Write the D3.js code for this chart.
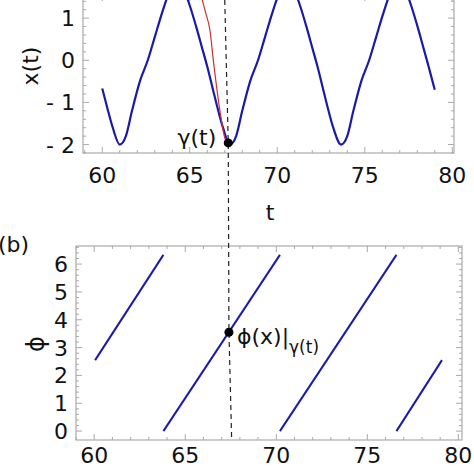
<!DOCTYPE html>
<html><head><meta charset="utf-8">
<script src="https://cdn.jsdelivr.net/npm/d3@7"></script>
<style>body{margin:0;background:#fff}text{font-family:"DejaVu Sans",sans-serif;fill:#111}</style>
</head><body><svg id="c" width="474" height="474"></svg>
<script>
/* data */
const tTop = [60,60.3,60.6,61.0,61.35,61.7,62.15,62.6,63.0,63.4,63.8,64.2,64.6,65.0,65.4,65.7,66.0,66.3,66.6,66.9,67.3,
  67.65,68.0,68.45,68.9,69.3,69.7,70.1,70.5,70.9,71.3,71.7,72.0,72.3,72.6,72.9,73.2,73.65,
  74.0,74.35,74.8,75.25,75.65,76.05,76.45,76.85,77.25,77.65,78.05,78.35,78.65,79.0];
const xTop = [-0.67,-1.15,-1.6,-2,-1.8,-1.2,-0.5,0,0.55,1.1,1.6,2,1.75,1.3,0.75,0.3,-0.15,-0.65,-1.15,-1.6,-2,
  -1.8,-1.2,-0.5,0,0.55,1.1,1.6,2,1.75,1.3,0.75,0.3,-0.15,-0.65,-1.15,-1.6,-2,
  -1.8,-1.2,-0.5,0,0.55,1.1,1.6,2,1.75,1.3,0.75,0.3,-0.15,-0.7];
const tRed = [65.6,65.9,66.17,66.34,66.5,66.74,67.03,67.2];
const xRed = [1.6,1.14,0.67,0.02,-0.52,-1.24,-1.88,-1.96];
const phiSegs = [[[60.05,2.55],[63.8,6.33]],[[63.8,0],[70.2,6.33]],[[70.2,0],[76.6,6.33]],[[76.6,0],[79.1,2.55]]];
const dotTop = [67.2,-1.96], dotBot = [67.4,3.55];
const xTicks = [60,65,70,75,80];
const yTicksTop = [-2,-1,0,1], yTicksBot = [0,1,2,3,4,5,6];

const svg = d3.select("#c");
const xa = d3.scaleLinear().domain([58.9,80.1]).range([83,454]);
const ya = d3.scaleLinear().domain([-2.2,1.43]).range([153,0]);
const xb = d3.scaleLinear().domain([59.0,80.2]).range([76,462]);
const yb = d3.scaleLinear().domain([-0.32,6.65]).range([440,246]);

function frame(x, y, top, yt, minorY, labOff) {
  const g = svg.append("g");
  const [x0,x1] = x.range(), y0 = y.range()[0], y1 = top;
  g.append("rect").attr("x",x0).attr("y",y1).attr("width",x1-x0).attr("height",y0-y1)
    .attr("fill","none").attr("stroke","#aaa").attr("stroke-width",1.2);
  d3.range(59,81).filter(v=>v>=x.domain()[0]&&v<=x.domain()[1]).forEach(v=>{
    const L = v%5===0?6:3;
    g.append("line").attr("x1",x(v)).attr("x2",x(v)).attr("y1",y0).attr("y2",y0-L).attr("stroke","#aaa");
    g.append("line").attr("x1",x(v)).attr("x2",x(v)).attr("y1",y1).attr("y2",y1+L).attr("stroke","#aaa");
  });
  minorY.forEach(v=>{
    const L = Math.abs(v-Math.round(v))<1e-6?6:3;
    g.append("line").attr("x1",x0).attr("x2",x0+L).attr("y1",y(v)).attr("y2",y(v)).attr("stroke","#aaa");
    g.append("line").attr("x1",x1).attr("x2",x1-L).attr("y1",y(v)).attr("y2",y(v)).attr("stroke","#aaa");
  });
  xTicks.forEach(v=>g.append("text").attr("x",x(v)).attr("y",y0+labOff).attr("text-anchor","middle")
    .attr("font-size",22).text(v));
  yt.forEach(v=>g.append("text").attr("x",x0-8).attr("y",y(v)+8).attr("text-anchor","end")
    .attr("font-size",22).text(v<0?"- "+(-v):v));
}
frame(xa, ya, -5, yTicksTop, d3.range(-2.2,1.5,0.2).map(v=>+v.toFixed(1)), 30);
frame(xb, yb, 246, yTicksBot, d3.range(0,6.61,0.2).map(v=>+v.toFixed(1)), 23);

const lineA = d3.line().x(d=>xa(d)).y((d,i)=>ya(xTop[i])).curve(d3.curveMonotoneX);
svg.append("path").attr("d",lineA(tTop)).attr("fill","none").attr("stroke","#1a1aa8").attr("stroke-width",2.2);
const lineR = d3.line().x(d=>xa(d)).y((d,i)=>ya(xRed[i])).curve(d3.curveMonotoneX);
svg.append("path").attr("d",lineR(tRed)).attr("fill","none").attr("stroke","#d03030").attr("stroke-width",1.2);
phiSegs.forEach(s=>svg.append("line").attr("x1",xb(s[0][0])).attr("y1",yb(s[0][1]))
  .attr("x2",xb(s[1][0])).attr("y2",yb(s[1][1])).attr("stroke","#1a1aa8").attr("stroke-width",2));

// dashed connector
const dash = [[xa(67.0),0],[xa(dotTop[0]),ya(dotTop[1])],[xb(dotBot[0]),yb(dotBot[1])],[xb(67.55),440]];
svg.append("path").attr("d",d3.line()(dash)).attr("fill","none").attr("stroke","#222")
  .attr("stroke-width",1.2).attr("stroke-dasharray","5,4");
svg.append("circle").attr("cx",xa(dotTop[0])).attr("cy",ya(dotTop[1])).attr("r",4.5).attr("fill","#000");
svg.append("circle").attr("cx",xb(dotBot[0])).attr("cy",yb(dotBot[1])).attr("r",4.5).attr("fill","#000");

svg.append("text").attr("x",xa(dotTop[0])-12).attr("y",ya(dotTop[1])+2).attr("text-anchor","end").attr("font-size",22).text("γ(t)");
const lab = svg.append("text").attr("x",xb(dotBot[0])+8).attr("y",yb(dotBot[1])+12).attr("font-size",22);
lab.append("tspan").text("ϕ(x)|");
lab.append("tspan").attr("dy",9).attr("font-size",17).text("γ(t)");

svg.append("text").attr("transform","translate(38,66) rotate(-90)").attr("text-anchor","middle").attr("font-size",22).text("x(t)");
svg.append("text").attr("x",270).attr("y",220).attr("text-anchor","middle").attr("font-size",22).text("t");
svg.append("text").attr("x",-2).attr("y",252).attr("font-size",22).text("(b)");
svg.append("text").attr("transform","translate(44,344) rotate(-90)").attr("text-anchor","middle").attr("font-size",24).text("ϕ");
</script></body></html>
